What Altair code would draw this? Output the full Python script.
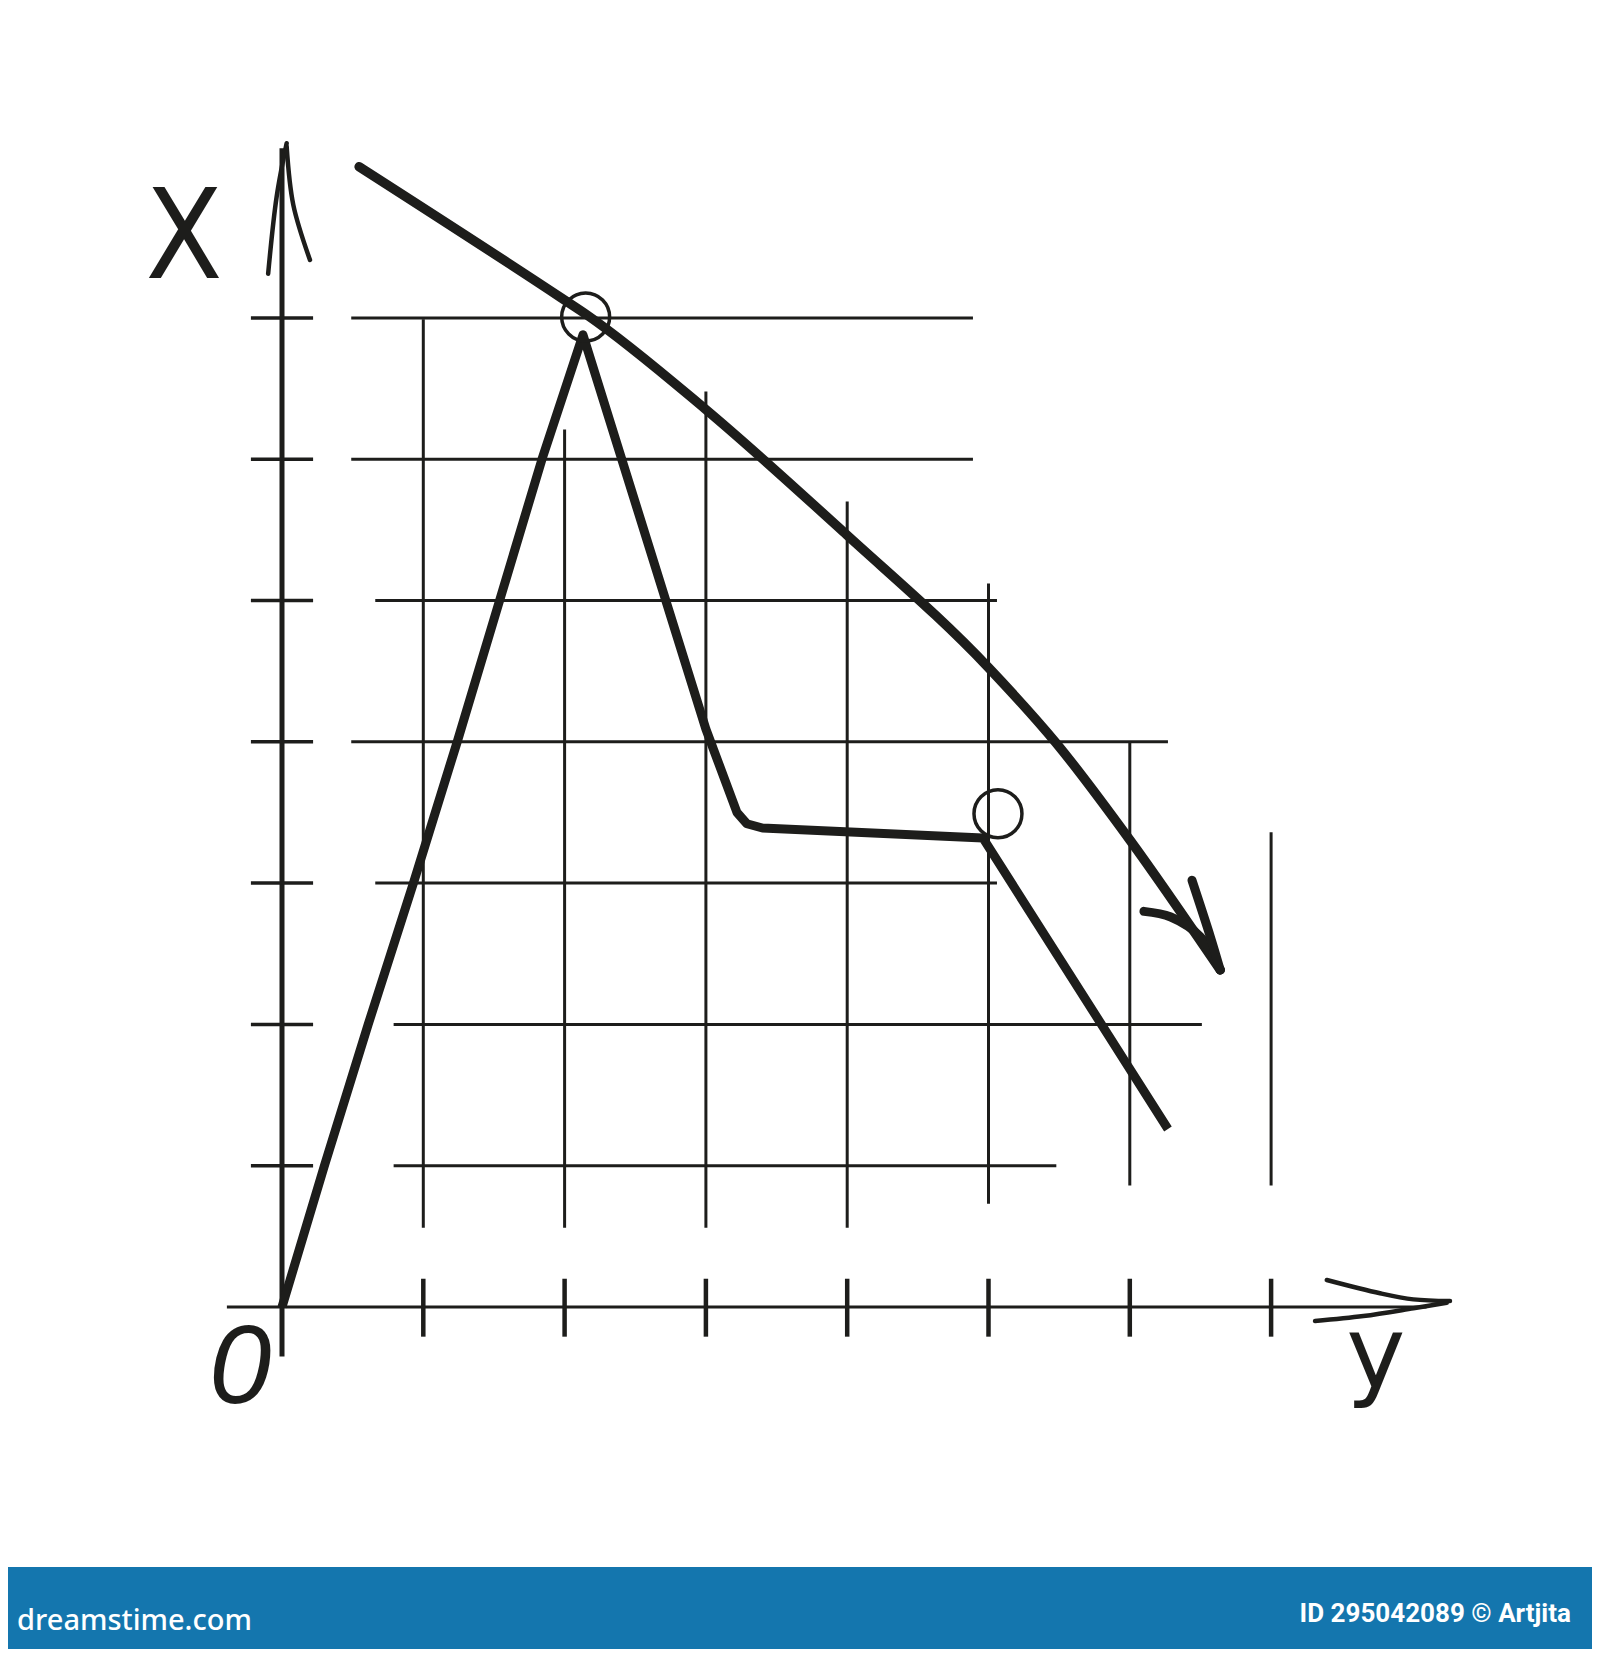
import altair as alt
import pandas as pd

INK = "#1d1d1b"
FOOTER_BLUE = "#1476ae"

# ---------------- data (in grid units) ----------------
# horizontal grid lines: level, start, end
h_grid_y = [7, 6, 5, 4, 3, 2, 1]
h_grid_x1 = [0.49, 0.49, 0.66, 0.49, 0.66, 0.79, 0.79]
h_grid_x2 = [4.89, 4.89, 5.06, 6.27, 5.06, 6.51, 5.48]

# vertical grid lines: position, bottom, top
v_grid_x = [1, 2, 3, 4, 5, 6, 7]
v_grid_y1 = [0.56, 0.56, 0.56, 0.56, 0.73, 0.86, 0.86]
v_grid_y2 = [6.99, 6.21, 6.48, 5.70, 5.12, 4.00, 3.36]

# axis ticks
tick_pos = [1, 2, 3, 4, 5, 6, 7]

# peaked (broken) line
peak_x = [0.00, 0.30, 0.61, 0.93, 1.24, 1.54, 1.84, 2.13, 3.00, 3.22, 3.29, 3.40, 4.96, 6.27]
peak_y = [0.00, 1.00, 2.00, 3.00, 4.00, 5.00, 6.00, 6.88, 4.09, 3.50, 3.42, 3.39, 3.32, 1.26]

# descending curve with arrow
curve_x = [0.546, 1.975, 2.16, 2.99, 3.994, 5.00, 5.48, 6.00, 6.64]
curve_y = [8.07, 7.143, 7.02, 6.36, 5.467, 4.525, 3.99, 3.306, 2.386]

barb_l_x = [6.10, 6.29, 6.50, 6.64]
barb_l_y = [2.80, 2.76, 2.62, 2.385]
barb_r_x = [6.44, 6.57, 6.64]
barb_r_y = [3.02, 2.62, 2.385]

# axis arrow heads
varrow_l_x = [-0.098, -0.038, 0.033]
varrow_l_y = [7.313, 7.857, 8.236]
varrow_r_x = [0.033, 0.080, 0.198]
varrow_r_y = [8.212, 7.80, 7.41]
harrow_u_x = [7.394, 7.771, 8.007, 8.266]
harrow_u_y = [0.191, 0.097, 0.054, 0.042]
harrow_d_x = [7.311, 7.653, 8.007, 8.243]
harrow_d_y = [-0.099, -0.064, -0.009, 0.030]

# axis lines
h_axis_x = [-0.39, 8.10]
v_axis_y = [-0.35, 8.20]

# open circles
circ_x = [2.149, 5.067]
circ_y = [7.006, 3.491]

# labels
lab_text = ["X", "0", "y"]
lab_x = [-0.694, -0.297, 7.742]
lab_y = [7.282, -0.679, -0.566]

footer_top = -1.84
footer_left_text = "dreamstime.com"
footer_right_text = "ID 295042089 © Artjita"
footer_left_pos = (-1.875, -2.286)
footer_right_pos = (9.122, -2.229)

# ---------------- scales ----------------
W, H = 1584, 1641
U = 141.3
OX, OY = 282 - 8, 1307 - 8
XMIN, XMAX = -OX / U, (W - OX) / U
YMIN, YMAX = (OY - H) / U, OY / U
xs = alt.Scale(domain=[XMIN, XMAX], nice=False, zero=False)
ys = alt.Scale(domain=[YMIN, YMAX], nice=False, zero=False)


def X(f):
    return alt.X(f, type="quantitative", scale=xs, axis=None)


def Y(f):
    return alt.Y(f, type="quantitative", scale=ys, axis=None)


def strokes(groups):
    rows = []
    for gid, (xx, yy) in enumerate(groups):
        for i, (a, b) in enumerate(zip(xx, yy)):
            rows.append({"id": gid, "i": i, "x": a, "y": b})
    return pd.DataFrame(rows)


# footer band
footer_df = pd.DataFrame({"x1": [XMIN], "x2": [XMAX], "y1": [YMIN], "y2": [footer_top]})
footer = alt.Chart(footer_df).mark_rect(color=FOOTER_BLUE).encode(
    x=X("x1"), x2="x2", y=Y("y1"), y2="y2")

hgrid = alt.Chart(pd.DataFrame({"y": h_grid_y, "x1": h_grid_x1, "x2": h_grid_x2})).mark_rule(
    color=INK, strokeWidth=3).encode(y=Y("y"), x=X("x1"), x2="x2")
vgrid = alt.Chart(pd.DataFrame({"x": v_grid_x, "y1": v_grid_y1, "y2": v_grid_y2})).mark_rule(
    color=INK, strokeWidth=3).encode(x=X("x"), y=Y("y1"), y2="y2")

haxis = alt.Chart(pd.DataFrame({"y": [0], "x1": [h_axis_x[0]], "x2": [h_axis_x[1]]})).mark_rule(
    color=INK, strokeWidth=3).encode(y=Y("y"), x=X("x1"), x2="x2")
vaxis = alt.Chart(pd.DataFrame({"x": [0], "y1": [v_axis_y[0]], "y2": [v_axis_y[1]]})).mark_rule(
    color=INK, strokeWidth=5).encode(x=X("x"), y=Y("y1"), y2="y2")

xticks = alt.Chart(pd.DataFrame({"x": tick_pos, "y1": [-0.21] * 7, "y2": [0.20] * 7})).mark_rule(
    color=INK, strokeWidth=4.5).encode(x=X("x"), y=Y("y1"), y2="y2")
yticks = alt.Chart(pd.DataFrame({"y": tick_pos, "x1": [-0.22] * 7, "x2": [0.22] * 7})).mark_rule(
    color=INK, strokeWidth=3.5).encode(y=Y("y"), x=X("x1"), x2="x2")

axis_arrows = alt.Chart(strokes([(varrow_l_x, varrow_l_y), (varrow_r_x, varrow_r_y),
                                 (harrow_u_x, harrow_u_y), (harrow_d_x, harrow_d_y)])).mark_line(
    color=INK, strokeWidth=4.5, strokeCap="round", interpolate="catmull-rom").encode(
    x=X("x"), y=Y("y"), detail="id:N", order=alt.Order("i:Q"))

peak = alt.Chart(strokes([(peak_x, peak_y)])).mark_line(
    color=INK, strokeWidth=9, strokeJoin="round", strokeCap="butt").encode(
    x=X("x"), y=Y("y"), order=alt.Order("i:Q"))

curve = alt.Chart(strokes([(curve_x, curve_y)])).mark_line(
    color=INK, strokeWidth=9.5, strokeCap="round", interpolate="monotone").encode(
    x=X("x"), y=Y("y"), order=alt.Order("i:Q"))

barbs = alt.Chart(strokes([(barb_l_x, barb_l_y), (barb_r_x, barb_r_y)])).mark_line(
    color=INK, strokeWidth=9, strokeCap="round", strokeJoin="round", interpolate="catmull-rom").encode(
    x=X("x"), y=Y("y"), detail="id:N", order=alt.Order("i:Q"))

circles = alt.Chart(pd.DataFrame({"x": circ_x, "y": circ_y})).mark_point(
    shape="circle", filled=False, size=2300, strokeWidth=3.5, color=INK, opacity=1).encode(
    x=X("x"), y=Y("y"))

lab_df = pd.DataFrame({"t": lab_text, "x": lab_x, "y": lab_y})
lab_X = alt.Chart(lab_df.iloc[[0]]).mark_text(
    font="DejaVu Sans Condensed, Liberation Sans Narrow, Liberation Sans", fontSize=125,
    align="center", baseline="alphabetic", color=INK).encode(x=X("x"), y=Y("y"), text="t:N")
lab_0 = alt.Chart(lab_df.iloc[[1]]).mark_text(
    font="Liberation Sans", fontSize=112, fontStyle="italic",
    align="center", baseline="alphabetic", color=INK).encode(x=X("x"), y=Y("y"), text="t:N")
lab_y = alt.Chart(lab_df.iloc[[2]]).mark_text(
    font="DejaVu Sans", fontSize=100,
    align="center", baseline="alphabetic", color=INK).encode(x=X("x"), y=Y("y"), text="t:N")

foot_l = alt.Chart(pd.DataFrame({"t": [footer_left_text], "x": [footer_left_pos[0]], "y": [footer_left_pos[1]]})).mark_text(
    font="Noto Sans", fontSize=29, fontWeight=500, align="left", baseline="alphabetic", color="white").encode(
    x=X("x"), y=Y("y"), text="t:N")
foot_r = alt.Chart(pd.DataFrame({"t": [footer_right_text], "x": [footer_right_pos[0]], "y": [footer_right_pos[1]]})).mark_text(
    font="Roboto", fontSize=26, fontWeight="bold", align="right", baseline="alphabetic", color="white").encode(
    x=X("x"), y=Y("y"), text="t:N")

chart = alt.layer(
    footer, hgrid, vgrid, haxis, vaxis, xticks, yticks, axis_arrows,
    peak, curve, barbs, circles, lab_X, lab_0, lab_y, foot_l, foot_r
).properties(
    width=W, height=H, padding=0, autosize=alt.AutoSizeParams(type="none"),
    background="white"
).configure_view(stroke=None)

chart.save("out.html", embed_options={"renderer": "svg", "actions": False})
